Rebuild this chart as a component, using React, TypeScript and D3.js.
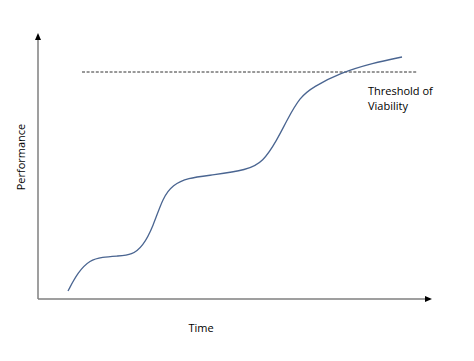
import React, { useEffect, useRef } from "react";
import * as d3 from "d3";

// curve: time vs performance (axis units)
const time = [30, 40, 52, 64, 80, 94, 105, 115, 125, 135, 149, 175, 209, 225, 239, 249, 262, 275, 302, 335, 364];
const performance = [8, 27, 39, 42, 43, 44, 53, 72, 102, 114, 121, 124, 129, 137, 159, 179, 202, 212, 226, 236, 242];

const thresholdValue = 227;
const thresholdSpan = [44, 379];
const thresholdLabel = ["Threshold of", "Viability"];

const xLabel = "Time";
const yLabel = "Performance";

const W = 474;
const H = 361;
const FONT = "'Open Sans', 'Liberation Sans', sans-serif";

export default function App() {
  const ref = useRef<SVGSVGElement>(null);

  useEffect(() => {
    const svg = d3.select(ref.current);
    svg.selectAll("*").remove();

    const x = d3.scaleLinear().domain([0, 394]).range([38, 432]);
    const y = d3.scaleLinear().domain([0, 266]).range([299, 33]);

    // axes, with little arrow heads
    svg.append("line")
      .attr("x1", x(0)).attr("y1", y(0))
      .attr("x2", x(0)).attr("y2", y(262))
      .style("stroke", "#7f7f7f")
      .style("stroke-width", 1.5);
    svg.append("path")
      .attr("d", `M${x(0) - 3},${y(259)} L${x(0)},${y(266)} L${x(0) + 3},${y(259)} Z`)
      .attr("fill", "#000");

    svg.append("line")
      .attr("x1", x(0)).attr("y1", y(0))
      .attr("x2", x(390)).attr("y2", y(0))
      .style("stroke", "#7f7f7f")
      .style("stroke-width", 1.5);
    svg.append("path")
      .attr("d", `M${x(387)},${y(0) - 3} L${x(394)},${y(0)} L${x(387)},${y(0) + 3} Z`)
      .attr("fill", "#000");

    // threshold line
    svg.append("line")
      .attr("x1", x(thresholdSpan[0])).attr("y1", y(thresholdValue))
      .attr("x2", x(thresholdSpan[1])).attr("y2", y(thresholdValue))
      .style("stroke", "#333")
      .style("stroke-width", 1)
      .style("stroke-dasharray", "3,1.6");

    // the performance curve
    const pts: [number, number][] = time.map((t, i) => [t, performance[i]]);
    const line = d3.line<[number, number]>()
      .x(d => x(d[0]))
      .y(d => y(d[1]))
      .curve(d3.curveBasis);
    svg.append("path")
      .attr("d", line(pts))
      .attr("fill", "none")
      .attr("stroke", "#4a6591")
      .attr("stroke-width", 1.3);

    // labels
    thresholdLabel.forEach((t, i) => {
      svg.append("text")
        .attr("x", 368)
        .attr("y", 95 + i * 15)
        .attr("style", `font-family: ${FONT}; font-size: 11px`)
        .attr("fill", "#000")
        .text(t);
    });

    svg.append("text")
      .attr("x", 201)
      .attr("y", 332)
      .attr("text-anchor", "middle")
      .attr("style", `font-family: ${FONT}; font-size: 11px`)
      .text(xLabel);

    svg.append("text")
      .attr("transform", `translate(25,157) rotate(-90)`)
      .attr("text-anchor", "middle")
      .attr("style", `font-family: ${FONT}; font-size: 11px`)
      .text(yLabel);
  }, []);

  return (
    <svg
      ref={ref}
      width={W}
      height={H}
      style={{ position: "absolute", left: 0, top: 0, background: "#fff" }}
    />
  );
}
